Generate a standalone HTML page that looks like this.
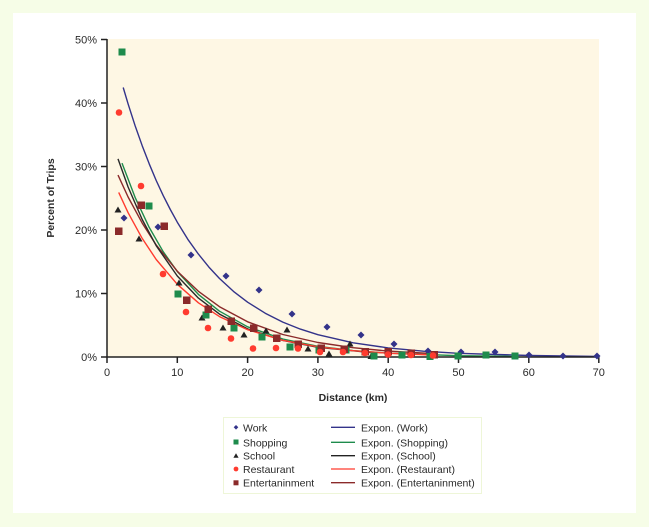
<!DOCTYPE html>
<html><head><meta charset="utf-8"><style>
html,body{margin:0;padding:0;background:#f6fde7;}
svg{display:block;}
text{font-family:"Liberation Sans",sans-serif;fill:#2a2a2a;}
</style></head><body>
<svg width="649" height="527" viewBox="0 0 649 527" xmlns="http://www.w3.org/2000/svg">
<rect x="0" y="0" width="649" height="527" fill="#f6fde7"/>
<rect x="13" y="13" width="623" height="500" fill="#ffffff"/>
<rect x="107" y="39" width="492" height="318" fill="#fef7e4"/>

<!-- fit curves -->
<g fill="none" stroke-width="1.4" stroke-linejoin="round">
<polyline stroke="#33338a" points="123.2,87.5 128.1,103.9 135.1,125.7 142.2,145.7 149.2,163.8 156.2,180.5 163.2,195.6 170.3,209.5 177.3,222.2 187.8,239.3 198.4,254.1 208.9,267.1 219.5,278.5 233.5,291.4 247.6,302.2 265.2,313.2 282.8,322.1 300.3,329.1 317.9,334.7 353.1,342.8 388.2,347.9 423.4,351.2 458.5,353.3 528.8,355.5 599,356.4"/>
<polyline stroke="#1e8b4c" points="122,163.1 135.1,197.4 149.2,227.4 163.2,251.7 177.3,271.5 198.4,294.4 219.5,311.2 247.6,326.8 282.8,339 317.9,346.3 353.1,350.6 388.2,353.2 458.5,355.7 514.7,356.4"/>
<polyline stroke="#8b2a2a" points="118,175.1 128.1,197 142.2,223.1 156.2,245 177.3,271.2 198.4,291.3 219.5,306.7 247.6,321.8 282.8,334.5 317.9,342.5 353.1,347.7 388.2,351.1 430.4,353.5"/>
<polyline stroke="#2a2a2a" points="118,158.9 128.1,187 142.2,219.5 156.2,245.7 177.3,276 198.4,298.1 219.5,314.1 247.6,328.9 282.8,340.5 317.9,347.3 372,352.7"/>
<polyline stroke="#ff3b2f" points="118.7,192.4 128.1,212.7 142.2,238.4 156.2,259.5 177.3,284.3 198.4,302.8 219.5,316.6 247.6,329.7 282.8,340.3 317.9,346.8 353.1,350.7 388.2,353.2 430.4,354.9"/>
</g>

<!-- axes -->
<g stroke="#222" stroke-width="1.5" fill="none">
<line x1="107" y1="39" x2="107" y2="357.5"/>
<line x1="106.3" y1="357" x2="599.5" y2="357"/>
<line x1="101" y1="39.5" x2="107" y2="39.5"/>
<line x1="101" y1="103" x2="107" y2="103"/>
<line x1="101" y1="166.5" x2="107" y2="166.5"/>
<line x1="101" y1="230" x2="107" y2="230"/>
<line x1="101" y1="293.5" x2="107" y2="293.5"/>
<line x1="101" y1="357" x2="107" y2="357"/>
<line x1="107" y1="357" x2="107" y2="363"/>
<line x1="177.3" y1="357" x2="177.3" y2="363"/>
<line x1="247.6" y1="357" x2="247.6" y2="363"/>
<line x1="317.9" y1="357" x2="317.9" y2="363"/>
<line x1="388.2" y1="357" x2="388.2" y2="363"/>
<line x1="458.5" y1="357" x2="458.5" y2="363"/>
<line x1="528.8" y1="357" x2="528.8" y2="363"/>
<line x1="598.8" y1="357" x2="598.8" y2="363"/>
</g>

<g font-size="11" text-anchor="end">
<text x="97" y="43.5">50%</text>
<text x="97" y="107">40%</text>
<text x="97" y="170.5">30%</text>
<text x="97" y="234">20%</text>
<text x="97" y="297.5">10%</text>
<text x="97" y="361">0%</text>
</g>
<g font-size="11" text-anchor="middle">
<text x="107" y="376">0</text>
<text x="177.3" y="376">10</text>
<text x="247.6" y="376">20</text>
<text x="317.9" y="376">30</text>
<text x="388.2" y="376">40</text>
<text x="458.5" y="376">50</text>
<text x="528.8" y="376">60</text>
<text x="598.8" y="376">70</text>
</g>
<text x="353" y="401" font-size="10.5" font-weight="bold" text-anchor="middle">Distance (km)</text>
<text transform="translate(54,198) rotate(-90)" font-size="10.5" font-weight="bold" text-anchor="middle">Percent of Trips</text>

<!-- Work diamonds -->
<g fill="#33338a">
<polygon points="124,214.5 127.5,218 124,221.5 120.5,218"/>
<polygon points="158,223.5 161.5,227 158,230.5 154.5,227"/>
<polygon points="191,251.5 194.5,255 191,258.5 187.5,255"/>
<polygon points="226,272.5 229.5,276 226,279.5 222.5,276"/>
<polygon points="259,286.5 262.5,290 259,293.5 255.5,290"/>
<polygon points="292,310.5 295.5,314 292,317.5 288.5,314"/>
<polygon points="327,323.5 330.5,327 327,330.5 323.5,327"/>
<polygon points="361,331.5 364.5,335 361,338.5 357.5,335"/>
<polygon points="394,340.5 397.5,344 394,347.5 390.5,344"/>
<polygon points="428,347.5 431.5,351 428,354.5 424.5,351"/>
<polygon points="461,348.5 464.5,352 461,355.5 457.5,352"/>
<polygon points="495,348.5 498.5,352 495,355.5 491.5,352"/>
<polygon points="529,351.5 532.5,355 529,358.5 525.5,355"/>
<polygon points="563,352.5 566.5,356 563,359.5 559.5,356"/>
<polygon points="597,352.5 600.5,356 597,359.5 593.5,356"/>
</g>

<!-- School triangles -->
<g fill="#222">
<polygon points="118,206.5 121.5,212.5 114.5,212.5"/>
<polygon points="139,235.5 142.5,241.5 135.5,241.5"/>
<polygon points="179,279.5 182.5,285.5 175.5,285.5"/>
<polygon points="202,314.5 205.5,320.5 198.5,320.5"/>
<polygon points="223,324.5 226.5,330.5 219.5,330.5"/>
<polygon points="244,331.5 247.5,337.5 240.5,337.5"/>
<polygon points="266,327.5 269.5,333.5 262.5,333.5"/>
<polygon points="287,326.5 290.5,332.5 283.5,332.5"/>
<polygon points="308,345.5 311.5,351.5 304.5,351.5"/>
<polygon points="329,350.5 332.5,356.5 325.5,356.5"/>
<polygon points="350,340.5 353.5,346.5 346.5,346.5"/>
<polygon points="371,353 374.5,359 367.5,359"/>
</g>

<!-- Shopping squares -->
<g fill="#1e8b4c">
<rect x="118.5" y="48.5" width="7" height="7"/>
<rect x="145.5" y="202.5" width="7" height="7"/>
<rect x="174.5" y="290.5" width="7" height="7"/>
<rect x="202.5" y="311.5" width="7" height="7"/>
<rect x="230.5" y="324.5" width="7" height="7"/>
<rect x="258.5" y="333.5" width="7" height="7"/>
<rect x="286.5" y="343.5" width="7" height="7"/>
<rect x="315.5" y="346.5" width="7" height="7"/>
<rect x="342.5" y="346.5" width="7" height="7"/>
<rect x="370.5" y="352.5" width="7" height="7"/>
<rect x="398.5" y="351.5" width="7" height="7"/>
<rect x="426.5" y="353" width="7" height="7"/>
<rect x="454.5" y="352.5" width="7" height="7"/>
<rect x="482.5" y="351.5" width="7" height="7"/>
<rect x="511.5" y="352.5" width="7" height="7"/>
</g>

<!-- Entertainment squares -->
<g fill="#8b2a2a">
<rect x="115" y="227.5" width="7.5" height="7.5"/>
<rect x="137.5" y="201.5" width="7.5" height="7.5"/>
<rect x="160.5" y="222.5" width="7.5" height="7.5"/>
<rect x="183" y="296.5" width="7.5" height="7.5"/>
<rect x="204.5" y="305.5" width="7.5" height="7.5"/>
<rect x="227.5" y="317.5" width="7.5" height="7.5"/>
<rect x="250" y="324.5" width="7.5" height="7.5"/>
<rect x="273" y="334.5" width="7.5" height="7.5"/>
<rect x="294.5" y="340.5" width="7.5" height="7.5"/>
<rect x="317.5" y="344.5" width="7.5" height="7.5"/>
<rect x="340.5" y="345.5" width="7.5" height="7.5"/>
<rect x="361.5" y="348" width="7.5" height="7.5"/>
<rect x="384.5" y="348" width="7.5" height="7.5"/>
<rect x="407.5" y="349.5" width="7.5" height="7.5"/>
<rect x="430.5" y="351" width="7.5" height="7.5"/>
</g>

<!-- Restaurant circles -->
<g fill="#ff3b2f">
<circle cx="119" cy="112.5" r="3.3"/>
<circle cx="141" cy="186" r="3.3"/>
<circle cx="163" cy="274" r="3.3"/>
<circle cx="186" cy="312" r="3.3"/>
<circle cx="208" cy="328" r="3.3"/>
<circle cx="231" cy="338.5" r="3.3"/>
<circle cx="253" cy="348.5" r="3.3"/>
<circle cx="276" cy="348" r="3.3"/>
<circle cx="298" cy="348.5" r="3.3"/>
<circle cx="320" cy="352" r="3.3"/>
<circle cx="343" cy="352" r="3.3"/>
<circle cx="365" cy="353" r="3.3"/>
<circle cx="388" cy="354.5" r="3.3"/>
<circle cx="411" cy="355" r="3.3"/>
<circle cx="433" cy="355.5" r="3.3"/>
</g>

<!-- Legend -->
<rect x="223.5" y="417.5" width="258" height="76" fill="#ffffff" stroke="#eef6d8" stroke-width="1"/>
<polygon points="236,425 238.3,427.3 236,429.6 233.7,427.3" fill="#33338a"/>
<rect x="233.5" y="439.5" width="5" height="5" fill="#1e8b4c"/>
<polygon points="236,453.3 238.6,457.8 233.4,457.8" fill="#222"/>
<circle cx="236" cy="469" r="2.4" fill="#ff3b2f"/>
<rect x="233.5" y="480.3" width="5" height="5" fill="#8b2a2a"/>
<g font-size="10.5">
<text x="243" y="431.3">Work</text>
<text x="243" y="446.3">Shopping</text>
<text x="243" y="459.7">School</text>
<text x="243" y="473">Restaurant</text>
<text x="243" y="486.7">Entertaninment</text>
<text x="361" y="431.3">Expon. (Work)</text>
<text x="361" y="446.3">Expon. (Shopping)</text>
<text x="361" y="459.7">Expon. (School)</text>
<text x="361" y="473">Expon. (Restaurant)</text>
<text x="361" y="486.7">Expon. (Entertaninment)</text>
</g>
<g stroke-width="1.3">
<line x1="331" y1="427.3" x2="355" y2="427.3" stroke="#33338a"/>
<line x1="331" y1="442.3" x2="355" y2="442.3" stroke="#1e8b4c"/>
<line x1="331" y1="455.7" x2="355" y2="455.7" stroke="#222"/>
<line x1="331" y1="469" x2="355" y2="469" stroke="#ff3b2f"/>
<line x1="331" y1="482.7" x2="355" y2="482.7" stroke="#8b2a2a"/>
</g>
</svg>
</body></html>
